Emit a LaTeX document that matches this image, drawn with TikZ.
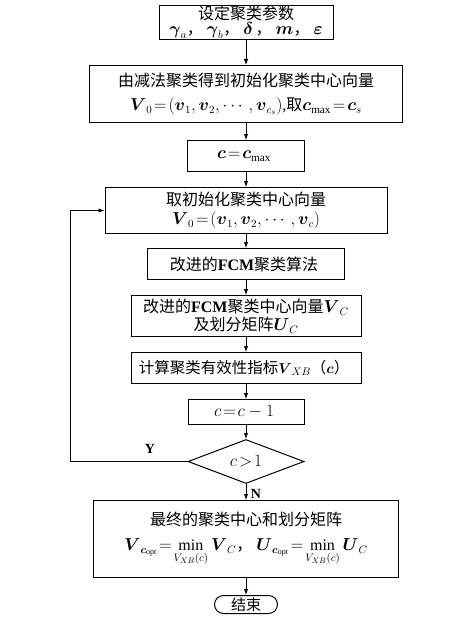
\documentclass[tikz,border=0pt]{standalone}
\usepackage{amsmath,amssymb}
\usepackage{fontspec}
\setmainfont{Liberation Serif}
\newfontfamily\cjk{Noto Sans CJK SC}
\usetikzlibrary{positioning,arrows.meta,shapes.geometric}

\begin{document}
\begin{tikzpicture}[
    x=1pt, y=1pt,
    procStyle/.style={
        rectangle, draw=black, line width=1pt, fill=white,
        inner xsep=2pt, inner ysep=0pt, align=center, font=\fontsize{16pt}{19pt}\selectfont
    },
    decisionStyle/.style={
        diamond, draw=black, line width=1pt, fill=white, inner sep=1pt, aspect=2.6,
        minimum width=116pt, minimum height=44pt, font=\fontsize{16pt}{19pt}\selectfont
    },
    termStyle/.style={
        rectangle, rounded corners=9pt, draw=black, line width=1pt,
        minimum width=63pt, minimum height=18pt, inner sep=0pt,
        font=\fontsize{15pt}{18pt}\selectfont
    },
    arrowStyle/.style={-{Latex[length=6pt,width=4.5pt]}, line width=0.9pt},
    labelStyle/.style={font=\fontsize{14pt}{16pt}\selectfont\bfseries}
]
    \useasboundingbox (0,0) rectangle (472,-618);

    % Main column
    \node[procStyle, minimum width=174pt, minimum height=34pt, anchor=north] (params) at (246,-5) {
        {\cjk 设定聚类参数}\\[-4pt]
        $\boldsymbol{\gamma}_a${\cjk ，}\ $\boldsymbol{\gamma}_b${\cjk ，}\ $\boldsymbol{\delta}$\,{\cjk ，}\ $\boldsymbol{m}${\cjk ，}\ $\boldsymbol{\varepsilon}$
    };
    \node[procStyle, minimum width=313pt, minimum height=57pt, below=25pt of params] (subclust) {
        {\cjk 由减法聚类得到初始化聚类中心向量}\\[5pt]
        $\boldsymbol{V}_0\!=\!(\boldsymbol{v}_1,\boldsymbol{v}_2,\cdots,\boldsymbol{v}_{c_s})$,{\cjk 取}$\boldsymbol{c}_{\max}\!=\!\boldsymbol{c}_s$
    };
    \node[procStyle, minimum width=117pt, minimum height=31pt, below=17pt of subclust] (cmax) {
        $\boldsymbol{c}\!=\!\boldsymbol{c}_{\max}$
    };
    \node[procStyle, minimum width=282pt, minimum height=46pt, below=15pt of cmax] (init) {
        {\cjk 取初始化聚类中心向量}\\[0pt]
        $\boldsymbol{V}_0\!=\!(\boldsymbol{v}_1,\boldsymbol{v}_2,\cdots,\boldsymbol{v}_c)$
    };
    \node[procStyle, minimum width=197pt, minimum height=31pt, below=14pt of init] (fcm) {
        {\cjk 改进的}\textbf{FCM}{\cjk 聚类算法}
    };
    \node[procStyle, minimum width=230pt, minimum height=41pt, below=15pt of fcm] (center) {
        {\cjk 改进的}\textbf{FCM}{\cjk 聚类中心向量}$\boldsymbol{V}_C$\\[-1pt]
        {\cjk 及划分矩阵}$\boldsymbol{U}_C$
    };
    \node[procStyle, minimum width=230pt, minimum height=31pt, below=15pt of center,
          font=\fontsize{15.5pt}{19pt}\selectfont] (vxb) {
        {\cjk 计算聚类有效性指标}$\boldsymbol{V}_{XB}${\cjk （}$\boldsymbol{c}${\cjk ）}
    };
    \node[procStyle, minimum width=116pt, minimum height=25pt, below=15pt of vxb] (decr) {
        $c\!=\!c-1$
    };
    \node[decisionStyle, below=14pt of decr] (check) {$c\!>\!1$};
    \node[procStyle, minimum width=305pt, minimum height=77pt, below=16pt of check] (final) {
        {\cjk 最终的聚类中心和划分矩阵}\\[6pt]
        $\boldsymbol{V}_{\boldsymbol{c}_{\mathrm{opt}}}\!=\!\min\limits_{V_{XB}(c)}\boldsymbol{V}_C${\cjk ，}
        $\boldsymbol{U}_{\boldsymbol{c}_{\mathrm{opt}}}\!=\!\min\limits_{V_{XB}(c)}\boldsymbol{U}_C$
    };
    \node[termStyle, below=17pt of final] (stop) {\cjk 结束};

    % Loop back column
    \coordinate (loopX) at (70,0);

    % Arrows
    \draw[arrowStyle] (params) -- (subclust);
    \draw[arrowStyle] (subclust) -- (cmax);
    \draw[arrowStyle] (cmax) -- (init);
    \draw[arrowStyle] (init) -- (fcm);
    \draw[arrowStyle] (fcm) -- (center);
    \draw[arrowStyle] (center) -- (vxb);
    \draw[arrowStyle] (vxb) -- (decr);
    \draw[arrowStyle] (decr) -- (check);
    \draw[arrowStyle] (check) -- node[labelStyle, right=1pt, pos=0.6] {N} (final);
    \draw[arrowStyle] (final) -- (stop);
    \draw[arrowStyle] (check.west) -- node[labelStyle, above=4pt, pos=0.32] {Y} (check.west -| loopX) |- (init.west);
\end{tikzpicture}
\end{document}
